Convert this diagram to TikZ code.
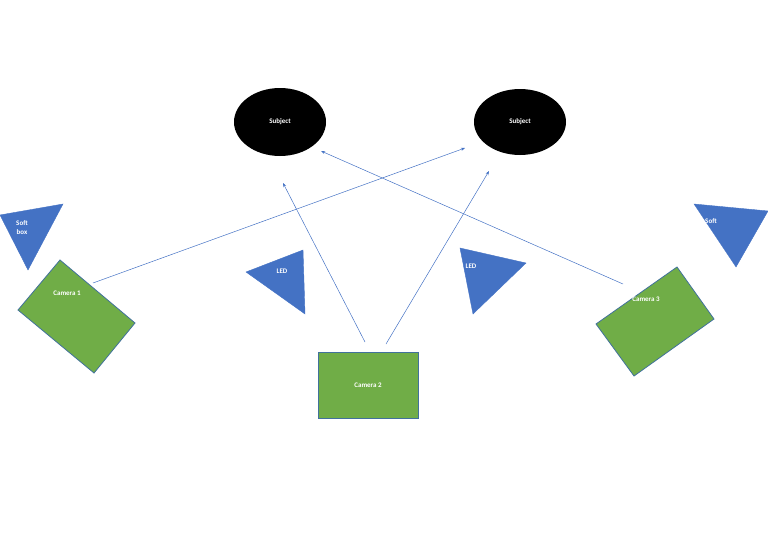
\documentclass[tikz,border=0pt]{standalone}
\usepackage{fontspec}
\setmainfont{Carlito}
\usetikzlibrary{arrows.meta,shapes.geometric}
\definecolor{lb}{HTML}{4472C4}
\definecolor{gr}{HTML}{70AD47}
\definecolor{ge}{HTML}{41719C}
\begin{document}
\begin{tikzpicture}[x=1pt,y=-1pt,
  tri/.style={fill=lb,draw=lb},
  cam/.style={fill=gr,draw=ge,line width=0.8pt},
  lbl/.style={text=white,font=\bfseries\fontsize{7}{9}\selectfont,align=center},
  ray/.style={draw=lb,line width=0.5pt,-{Stealth[length=4pt,width=3pt]}}]
\useasboundingbox (0,0) rectangle (768,543);
% soft boxes
\draw[tri] (0,215) -- (63,204) -- (28,270) -- cycle;
\node[lbl] (sb1) at (22,228) {Soft\\box};
\draw[tri] (694,204) -- (768,211) -- (736,267) -- cycle;
\node[lbl] (sb2) at (711,221) {Soft};
% LEDs
\draw[tri] (246,272) -- (303,250) -- (305,314) -- cycle;
\node[lbl] (led1) at (282,271) {LED};
\draw[tri] (460,248) -- (526,263) -- (473,314) -- cycle;
\node[lbl] (led2) at (471,266) {LED};
% cameras
\draw[cam] (18,310) -- (60,260) -- (135,323) -- (94,373) -- cycle;
\node[lbl] (c1) at (67,293) {Camera 1};
\draw[cam] (318,352) rectangle (418,418);
\node[lbl] (c2) at (368,385) {Camera 2};
\draw[cam] (596,324) -- (677,267) -- (714,319) -- (634,376) -- cycle;
\node[lbl] (c3) at (646,299) {Camera 3};
% subjects
\node[ellipse,fill=black,minimum width=92,minimum height=68,inner sep=0,lbl] (s1) at (280,122) {Subject};
\node[ellipse,fill=black,minimum width=92,minimum height=66,inner sep=0,lbl] (s2) at (520,122) {Subject};
% rays
\coordinate (a1) at (93,283); \coordinate (b1) at (465,148);
\coordinate (a2) at (365,342); \coordinate (b2) at (283,183);
\coordinate (a3) at (386,344); \coordinate (b3) at (489,171);
\coordinate (a4) at (623,284); \coordinate (b4) at (321,151);
\draw[ray] (a1) -- (b1);
\draw[ray] (a2) -- (b2);
\draw[ray] (a3) -- (b3);
\draw[ray] (a4) -- (b4);
\end{tikzpicture}
\end{document}
